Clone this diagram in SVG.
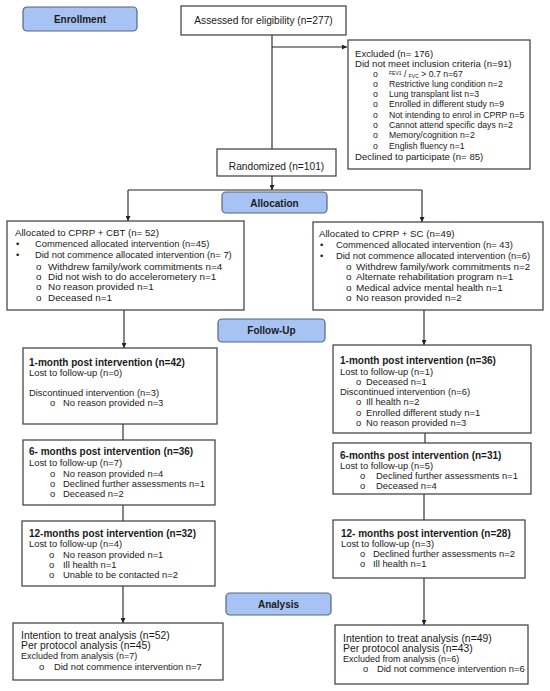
<svg xmlns="http://www.w3.org/2000/svg" width="550" height="691" viewBox="0 0 550 691">
<defs>
<marker id="ah" viewBox="0 0 8 8" refX="8" refY="4" markerWidth="5" markerHeight="5" orient="auto" markerUnits="userSpaceOnUse"><path d="M0,0 L8,4 L0,8 z" fill="#222"/></marker>
<style>
text{font-family:"Liberation Sans",Arial,sans-serif;fill:#1a1a1a}
.box{fill:#fff;stroke:#3a3a3a;stroke-width:1.2}
.hb{fill:#a7c3f3;stroke:#56657e;stroke-width:1.2}
.hl{font-size:10px;font-weight:bold;text-anchor:middle}
.c{font-size:10.2px;text-anchor:middle}
.t{font-size:9.4px}
.tw{font-size:9.9px}
.tx{font-size:9.6px}
.txs{font-size:8.7px}
.tb{font-size:10px;font-weight:bold}
.ta{font-size:9.7px}
.ti{font-size:10.4px}
.ts{font-size:9px}
.sm{font-size:5px}
.ln{stroke:#222;stroke-width:1.1;fill:none}
.ar{stroke:#222;stroke-width:1.1;fill:none;marker-end:url(#ah)}
</style>
</defs>
<g id="connectors">
<path class="ln" d="M272,35 V149"/>
<path class="ar" d="M272,47 H347"/>
<path class="ar" d="M272,176 V190"/>
<path class="ln" d="M128,190 H422"/>
<path class="ar" d="M128,190 V221"/>
<path class="ar" d="M422,190 V222"/>
<path class="ar" d="M124,310 V348"/>
<path class="ln" d="M123,424 V440"/>
<path class="ln" d="M123,505 V521"/>
<path class="ar" d="M123,586 V623"/>
<path class="ar" d="M424,310 V345"/>
<path class="ln" d="M425,433 V443"/>
<path class="ln" d="M424,494 V520"/>
<path class="ar" d="M424,578 V625"/>
</g>
<g id="enrollment"><rect class="hb" x="23" y="7" width="114" height="24" rx="4"/><text class="hl" x="80" y="22.5">Enrollment</text></g>
<g id="assessed"><rect class="box" x="181" y="6" width="165" height="29"/><text class="c" x="263.5" y="24">Assessed for eligibility (n=277)</text></g>
<g id="excluded"><rect class="box" x="348" y="40" width="182" height="129"/>
<text class="tx" x="355" y="56.5">Excluded (n= 176)</text>
<text class="tx" x="355" y="66.5">Did not meet inclusion criteria (n=91)</text>
<text class="txs" x="373" y="76.5">o</text><text x="389" y="74.5"><tspan class="sm">FEV1</tspan><tspan class="txs" dy="2"> / </tspan><tspan class="sm" dy="1">FVC</tspan><tspan class="txs" dy="-1"> &gt; 0.7 n=67</tspan></text>
<text class="txs" x="373" y="86.5">o</text><text class="txs" x="389" y="86.5">Restrictive lung condition n=2</text>
<text class="txs" x="373" y="96.5">o</text><text class="txs" x="389" y="96.5">Lung transplant list n=3</text>
<text class="txs" x="373" y="106.5">o</text><text class="txs" x="389" y="106.5">Enrolled in different study n=9</text>
<text class="txs" x="373" y="117.5">o</text><text class="txs" x="389" y="117.5">Not intending to enrol in CPRP n=5</text>
<text class="txs" x="373" y="127.5">o</text><text class="txs" x="389" y="127.5">Cannot attend specific days n=2</text>
<text class="txs" x="373" y="138">o</text><text class="txs" x="389" y="138">Memory/cognition n=2</text>
<text class="txs" x="373" y="148.5">o</text><text class="txs" x="389" y="148.5">English fluency n=1</text>
<text class="tx" x="355" y="159.5">Declined to participate (n= 85)</text>
</g>
<g id="randomized"><rect class="box" x="217" y="149" width="119" height="27"/><text class="c" x="276.5" y="169.5">Randomized (n=101)</text></g>
<g id="allocation"><rect class="hb" x="222" y="192" width="105" height="21" rx="4"/><text class="hl" x="274.5" y="206.5">Allocation</text></g>
<g id="alloc-cbt"><rect class="box" x="7" y="221" width="237" height="89"/>
<text class="ta" x="15" y="235.5">Allocated to CPRP + CBT (n= 52)</text>
<text class="t" x="16" y="246.5">•</text><text class="t" x="35" y="246.5">Commenced allocated intervention (n=45)</text>
<text class="t" x="16" y="258">•</text><text class="t" x="35" y="258">Did not commence allocated intervention (n= 7)</text>
<text class="tw" x="36" y="269.5">o</text><text class="tw" x="48" y="269.5">Withdrew family/work commitments n=4</text>
<text class="tw" x="36" y="279.5">o</text><text class="tw" x="48" y="279.5">Did not wish to do accelerometery n=1</text>
<text class="tw" x="36" y="290">o</text><text class="tw" x="48" y="290">No reason provided n=1</text>
<text class="tw" x="36" y="300.5">o</text><text class="tw" x="48" y="300.5">Deceased n=1</text>
</g>
<g id="alloc-sc"><rect class="box" x="313" y="222" width="230" height="88"/>
<text class="ta" x="319" y="236.5">Allocated to CPRP + SC (n=49)</text>
<text class="t" x="320" y="247.5">•</text><text class="t" x="336" y="247.5">Commenced allocated intervention (n= 43)</text>
<text class="t" x="320" y="258.5">•</text><text class="t" x="336" y="258.5">Did not commence allocated intervention (n=6)</text>
<text class="tw" x="346" y="270">o</text><text class="tw" x="356" y="270">Withdrew family/work commitments n=2</text>
<text class="tw" x="346" y="280">o</text><text class="tw" x="356" y="280">Alternate rehabilitation program n=1</text>
<text class="tw" x="346" y="290.5">o</text><text class="tw" x="356" y="290.5">Medical advice mental health n=1</text>
<text class="tw" x="346" y="300.5">o</text><text class="tw" x="356" y="300.5">No reason provided n=2</text>
</g>
<g id="followup"><rect class="hb" x="218" y="319" width="107" height="23" rx="4"/><text class="hl" x="271.5" y="334">Follow-Up</text></g>
<g id="l-1month"><rect class="box" x="23" y="348" width="194" height="76"/>
<text class="tb" x="29" y="365.5">1-month post intervention (n=42)</text>
<text class="t" x="29" y="375.5">Lost to follow-up (n=0)</text>
<text class="t" x="29" y="395.5">Discontinued intervention (n=3)</text>
<text class="t" x="50" y="405.5">o</text><text class="t" x="63" y="405.5">No reason provided n=3</text>
</g>
<g id="l-6month"><rect class="box" x="23" y="440" width="192" height="65"/>
<text class="tb" x="29" y="454.5">6- months post intervention (n=36)</text>
<text class="t" x="29" y="466">Lost to follow-up (n=7)</text>
<text class="t" x="50" y="476.5">o</text><text class="t" x="63" y="476.5">No reason provided n=4</text>
<text class="t" x="50" y="486.5">o</text><text class="t" x="63" y="486.5">Declined further assessments n=1</text>
<text class="t" x="50" y="496.5">o</text><text class="t" x="63" y="496.5">Deceased n=2</text>
</g>
<g id="l-12month"><rect class="box" x="22" y="521" width="193" height="65"/>
<text class="tb" x="29" y="536.5">12-months post intervention (n=32)</text>
<text class="t" x="29" y="547">Lost to follow-up (n=4)</text>
<text class="t" x="49" y="557.5">o</text><text class="t" x="63" y="557.5">No reason provided n=1</text>
<text class="t" x="49" y="567.5">o</text><text class="t" x="63" y="567.5">Ill health n=1</text>
<text class="t" x="49" y="577.5">o</text><text class="t" x="63" y="577.5">Unable to be contacted n=2</text>
</g>
<g id="l-itt"><rect class="box" x="13" y="623" width="210" height="57"/>
<text class="ti" x="21" y="638.5">Intention to treat analysis (n=52)</text>
<text class="ti" x="21" y="648.5">Per protocol analysis (n=45)</text>
<text class="ts" x="21" y="658.5">Excluded from analysis (n=7)</text>
<text class="t" x="39" y="669.5">o</text><text class="t" x="54" y="669.5">Did not commence intervention n=7</text>
</g>
<g id="r-1month"><rect class="box" x="333" y="345" width="198" height="88"/>
<text class="tb" x="340" y="363.5">1-month post intervention (n=36)</text>
<text class="t" x="340" y="374.5">Lost to follow-up (n=1)</text>
<text class="t" x="356" y="384.5">o</text><text class="t" x="366" y="384.5">Deceased n=1</text>
<text class="t" x="340" y="394.5">Discontinued intervention (n=6)</text>
<text class="t" x="356" y="404.5">o</text><text class="t" x="366" y="404.5">Ill health n=2</text>
<text class="t" x="356" y="415.5">o</text><text class="t" x="366" y="415.5">Enrolled different study n=1</text>
<text class="t" x="356" y="426">o</text><text class="t" x="366" y="426">No reason provided n=3</text>
</g>
<g id="r-6month"><rect class="box" x="333" y="443" width="198" height="51"/>
<text class="tb" x="340" y="458.5">6-months post intervention (n=31)</text>
<text class="t" x="340" y="468.5">Lost to follow-up (n=5)</text>
<text class="t" x="360" y="479">o</text><text class="t" x="376" y="479">Declined further assessments n=1</text>
<text class="t" x="360" y="488.5">o</text><text class="t" x="376" y="488.5">Deceased n=4</text>
</g>
<g id="r-12month"><rect class="box" x="333" y="520" width="192" height="58"/>
<text class="tb" x="341" y="536.5">12- months post intervention (n=28)</text>
<text class="t" x="341" y="546.5">Lost to follow-up (n=3)</text>
<text class="t" x="360" y="556.5">o</text><text class="t" x="373" y="556.5">Declined further assessments n=2</text>
<text class="t" x="360" y="566.5">o</text><text class="t" x="373" y="566.5">Ill health n=1</text>
</g>
<g id="analysis"><rect class="hb" x="226" y="593" width="105" height="22" rx="4"/><text class="hl" x="278.5" y="607.5">Analysis</text></g>
<g id="r-itt"><rect class="box" x="335" y="625" width="193" height="59"/>
<text class="ti" x="343" y="641.5">Intention to treat analysis (n=49)</text>
<text class="ti" x="343" y="651.5">Per protocol analysis (n=43)</text>
<text class="ts" x="343" y="661.5">Excluded from analysis (n=6)</text>
<text class="t" x="363" y="671.5">o</text><text class="t" x="377" y="671.5">Did not commence intervention n=6</text>
</g>
</svg>
